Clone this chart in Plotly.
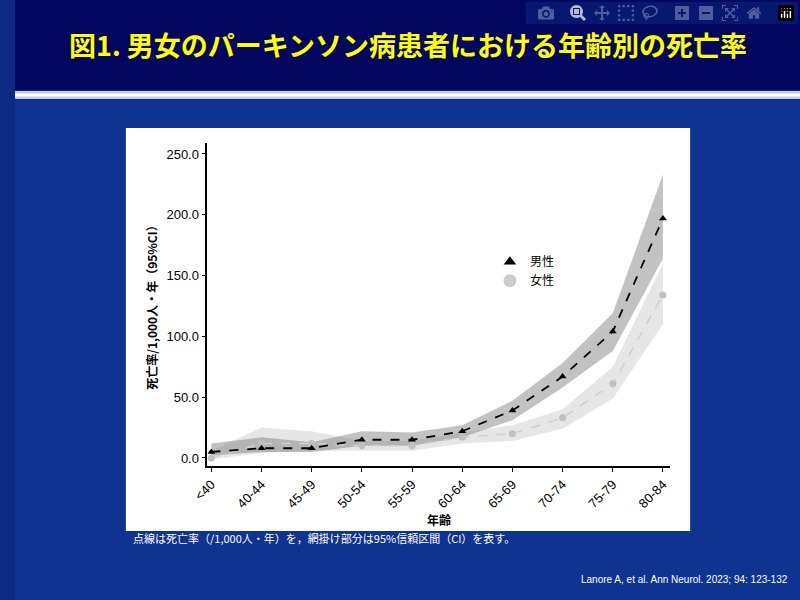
import plotly.graph_objects as go

ages = ["<40","40-44","45-49","50-54","55-59","60-64","65-69","70-74","75-79","80-84"]
male = [5, 8, 8, 15, 15, 22, 39, 67, 104, 197]
male_lo = [2, 5, 5, 10, 10, 17, 31, 58, 88, 164]
male_hi = [12, 17, 13, 22, 21, 27, 47, 78, 119, 233]
female = [0, 12, 12, 10, 10, 17, 20, 33, 61, 134]
female_lo = [-1, 4, 6, 6, 6, 12, 14, 24, 49, 110]
female_hi = [6, 25, 22, 14, 14, 21, 27, 40, 75, 160]
yticks = [0, 50, 100, 150, 200, 250]

xs = list(range(len(ages)))
fig = go.Figure()
fig.add_trace(go.Scatter(x=xs+xs[::-1], y=female_hi+female_lo[::-1], fill="toself",
    fillcolor="rgba(200,200,200,0.45)", line=dict(width=0), showlegend=False, hoverinfo="skip"))
fig.add_trace(go.Scatter(x=xs+xs[::-1], y=male_hi+male_lo[::-1], fill="toself",
    fillcolor="rgba(120,120,120,0.45)", line=dict(width=0), showlegend=False, hoverinfo="skip"))
fig.add_trace(go.Scatter(x=xs, y=female, mode="lines+markers", showlegend=False,
    line=dict(color="#cfcfcf", dash="dash", width=1.5), marker=dict(color="#c0c0c0", size=7, symbol="circle")))
fig.add_trace(go.Scatter(x=xs, y=male, mode="lines+markers", showlegend=False,
    line=dict(color="black", dash="dash", width=1.8), marker=dict(color="black", size=7, symbol="triangle-up")))
# legend-only entries (markers only)
fig.add_trace(go.Scatter(x=[None], y=[None], mode="markers", name="男性",
    marker=dict(color="black", size=11, symbol="triangle-up")))
fig.add_trace(go.Scatter(x=[None], y=[None], mode="markers", name="女性",
    marker=dict(color="#cccccc", size=13, symbol="circle")))

fig.update_layout(
    width=800, height=600, margin=dict(l=0, r=0, t=0, b=0),
    paper_bgcolor="#0c2a84", plot_bgcolor="white",
    font=dict(family="Noto Sans CJK JP", color="black"),
    legend=dict(x=0.605, y=0.588, xanchor="left", yanchor="top", bgcolor="rgba(0,0,0,0)",
                font=dict(size=12, family="Noto Sans CJK JP"), tracegroupgap=12),
    xaxis=dict(domain=[196/800, 668/800], range=[-0.08, 9.15], tickmode="array", tickvals=xs, ticktext=ages,
               tickangle=-45, showgrid=False, zeroline=False, showline=True, linecolor="black", linewidth=1.5,
               ticks="outside", ticklen=4, tickcolor="black", tickfont=dict(size=13, color="black", family="Liberation Sans"),
               title=dict(text="<b>年齢</b>", font=dict(size=12), standoff=4), anchor="y"),
    yaxis=dict(domain=[1-466/600, 1-143/600], range=[-6.6, 259], tickvals=yticks,
               ticktext=[f"{v:.1f}" for v in yticks], showgrid=False, zeroline=False, showline=True,
               linecolor="black", linewidth=1.5, ticks="outside", ticklen=4, tickcolor="black",
               tickfont=dict(size=13, color="black", family="Liberation Sans"),
               title=dict(text="<b>死亡率/1,000人・年（95%CI）</b>", font=dict(size=12), standoff=6), anchor="x"),
    shapes=[
        dict(type="rect", xref="paper", yref="paper", x0=0, x1=1, y0=1-90/600, y1=1, fillcolor="#03065f", line=dict(width=0), layer="below"),
        dict(type="rect", xref="paper", yref="paper", x0=0, x1=1, y0=0, y1=1-100/600, fillcolor="#0e3390", line=dict(width=0), layer="below"),
        dict(type="rect", xref="paper", yref="paper", x0=0, x1=1, y0=1-99/600, y1=1-91/600, fillcolor="#c8cce0", line=dict(width=0), layer="below"),
        dict(type="rect", xref="paper", yref="paper", x0=0, x1=1, y0=1-96.5/600, y1=1-93.5/600, fillcolor="white", line=dict(width=0), layer="below"),
        dict(type="rect", xref="paper", yref="paper", x0=113/800, x1=688/800, y0=1-531/600, y1=1-128/600, fillcolor="white", line=dict(width=0), layer="below"),
    ],
    annotations=[
        dict(text="<b>図1. 男女のパーキンソン病患者における年齢別の死亡率</b>", xref="paper", yref="paper", x=0.5, y=1-45/600,
             yanchor="middle", showarrow=False, font=dict(size=27, color="#ffff00", family="Noto Sans CJK JP")),
        dict(text="点線は死亡率（/1,000人・年）を，網掛け部分は95%信頼区間（CI）を表す。", xref="paper", yref="paper",
             x=118/800, y=1-548/600, xanchor="left", showarrow=False, font=dict(size=11, color="white")),
        dict(text="Lanore A, et al. Ann Neurol. 2023; 94: 123-132", xref="paper", yref="paper",
             x=790/800, y=1-587/600, xanchor="right", showarrow=False, font=dict(size=10, color="white", family="Liberation Sans")),
    ],
)
fig.write_html("out.html", post_script="document.body.style.margin='0';document.body.style.overflow='hidden';")
